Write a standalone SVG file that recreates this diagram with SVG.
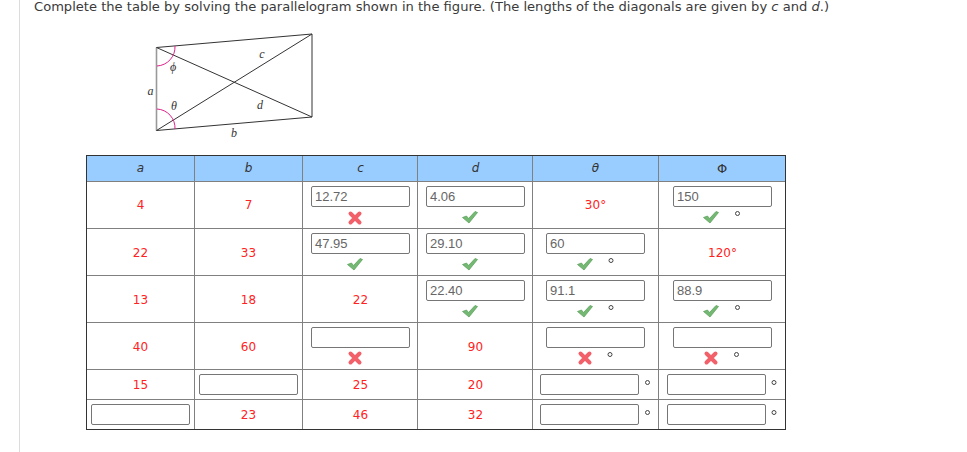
<svg xmlns="http://www.w3.org/2000/svg" xmlns:xlink="http://www.w3.org/1999/xlink" width="967" height="452" viewBox="0 0 967 452">
<style>
.q{font:13px "DejaVu Sans",Verdana,sans-serif;fill:#3a3a3a}
.h{font:italic 12px "DejaVu Sans",Verdana,sans-serif;fill:#333;text-anchor:middle}
.p{font:13px "DejaVu Sans",Verdana,sans-serif;fill:#333;text-anchor:middle}
.r{font:12px "DejaVu Sans",Verdana,sans-serif;fill:#f22;text-anchor:middle}
.v{font:13px "Liberation Sans",Arial,sans-serif;fill:#666}
.f{font:italic 12px "Liberation Serif","Times New Roman",serif;fill:#333;text-anchor:middle}
.g{stroke:#808080;stroke-width:1;fill:none}
.b{fill:#fff;stroke:#767676;stroke-width:1}
</style>
<defs>
<rect id="box" class="b" width="98" height="20" rx="1.500"/>
<path id="ok" d="M-7.500 0.500L-3.500 -1L-1.500 1.500L5 -5.500L7.500 -4.500L-1 6Z" fill="#74b874" stroke="#559d55" stroke-width=".7" stroke-linejoin="round"/>
<path id="no" d="M-4.500 -4.500L4.500 4.500M4.500 -4.500L-4.500 4.500" fill="none" stroke="#f2606a" stroke-width="4" stroke-linecap="round"/>
<circle id="deg" r="2" fill="none" stroke="#444" stroke-width="1"/>
</defs>
<rect width="967" height="452" fill="#fff"/>
<path d="M19.500 0V452" stroke="#dcdcdc"/>
<text class="q" x="34" y="11" textLength="795" lengthAdjust="spacingAndGlyphs">Complete the table by solving the parallelogram shown in the figure. (The lengths of the diagonals are given by <tspan font-style="italic">c</tspan> and <tspan font-style="italic">d</tspan>.)</text>
<g id="figure">
<path d="M156.500 47.500V130.500" stroke="#999" stroke-width="1.600" fill="none"/>
<path d="M156.500 47.500L312 34V117L156.500 130.500M156.500 47.500L312 117M156.500 130.500L312 34" stroke="#333" stroke-width="1" fill="none"/>
<path d="M175 46A19 19 0 0 1 157 66M157 109A19 19 0 0 1 175 129" stroke="#e0218a" stroke-width="1" fill="none"/>
<text class="f" x="262" y="58">c</text><text class="f" x="260" y="109">d</text><text class="f" x="150.500" y="95">a</text><text class="f" x="234" y="137">b</text>
<text class="f" x="173" y="71">ϕ</text><text class="f" x="174" y="110">θ</text>
</g>
<g id="table">
<rect x="86.500" y="155.500" width="699" height="26" fill="#99ccff"/>
<path class="g" d="M194.500 155V430M302.500 155V430M417.500 155V430M532.500 155V430M658.500 155V430M86 181.500H785M86 228.500H785M86 275.500H785M86 322.500H785M86 369.500H785M86 399.500H785"/>
<rect x="86.500" y="155.500" width="699" height="274" fill="none" stroke="#333"/>
<text class="h" x="140.500" y="172">a</text><text class="h" x="248.500" y="172">b</text><text class="h" x="360.500" y="172">c</text><text class="h" x="475.500" y="172">d</text><text class="h" x="595.500" y="172">θ</text><text class="p" x="722" y="173">Φ</text>
</g>
<g id="row1">
<text class="r" x="140.500" y="209">4</text><text class="r" x="248.500" y="209">7</text><text class="r" x="595.500" y="209">30°</text>
<use xlink:href="#box" x="311.500" y="186.500"/><text class="v" x="315" y="201">12.72</text><use xlink:href="#no" x="355" y="218"/>
<use xlink:href="#box" x="426.500" y="186.500"/><text class="v" x="430" y="201">4.06</text><use xlink:href="#ok" x="470" y="217"/>
<use xlink:href="#box" x="673.500" y="186.500"/><text class="v" x="677" y="201">150</text><use xlink:href="#ok" x="711" y="217"/><use xlink:href="#deg" x="737.500" y="213.500"/>
</g>
<g id="row2">
<text class="r" x="140.500" y="257">22</text><text class="r" x="248.500" y="257">33</text><text class="r" x="722.500" y="257">120°</text>
<use xlink:href="#box" x="311.500" y="233.500"/><text class="v" x="315" y="248">47.95</text><use xlink:href="#ok" x="355" y="264"/>
<use xlink:href="#box" x="426.500" y="233.500"/><text class="v" x="430" y="248">29.10</text><use xlink:href="#ok" x="470" y="264"/>
<use xlink:href="#box" x="546.500" y="233.500"/><text class="v" x="550" y="248">60</text><use xlink:href="#ok" x="585" y="264"/><use xlink:href="#deg" x="611" y="260.500"/>
</g>
<g id="row3">
<text class="r" x="140.500" y="304">13</text><text class="r" x="248.500" y="304">18</text><text class="r" x="360.500" y="304">22</text>
<use xlink:href="#box" x="426.500" y="280.500"/><text class="v" x="430" y="295">22.40</text><use xlink:href="#ok" x="470" y="311"/>
<use xlink:href="#box" x="546.500" y="280.500"/><text class="v" x="550" y="295">91.1</text><use xlink:href="#ok" x="585" y="311"/><use xlink:href="#deg" x="611" y="307.500"/>
<use xlink:href="#box" x="673.500" y="280.500"/><text class="v" x="677" y="295">88.9</text><use xlink:href="#ok" x="711" y="311"/><use xlink:href="#deg" x="737.500" y="307.500"/>
</g>
<g id="row4">
<text class="r" x="140.500" y="351">40</text><text class="r" x="248.500" y="351">60</text><text class="r" x="475.500" y="351">90</text>
<use xlink:href="#box" x="311.500" y="327.500"/><use xlink:href="#no" x="355" y="358"/>
<use xlink:href="#box" x="546.500" y="327.500"/><use xlink:href="#no" x="585" y="358"/><use xlink:href="#deg" x="610" y="354.500"/>
<use xlink:href="#box" x="673.500" y="327.500"/><use xlink:href="#no" x="711" y="358"/><use xlink:href="#deg" x="736.500" y="354.500"/>
</g>
<g id="row5">
<text class="r" x="140.500" y="389">15</text><text class="r" x="360.500" y="389">25</text><text class="r" x="475.500" y="389">20</text>
<use xlink:href="#box" x="199.500" y="374.500"/>
<use xlink:href="#box" x="540.500" y="374.500"/><use xlink:href="#deg" x="647.500" y="382.500"/>
<use xlink:href="#box" x="667.500" y="374.500"/><use xlink:href="#deg" x="774" y="382.500"/>
</g>
<g id="row6">
<text class="r" x="248.500" y="419">23</text><text class="r" x="360.500" y="419">46</text><text class="r" x="475.500" y="419">32</text>
<use xlink:href="#box" x="91.500" y="404.500"/>
<use xlink:href="#box" x="540.500" y="404.500"/><use xlink:href="#deg" x="647.500" y="412.500"/>
<use xlink:href="#box" x="667.500" y="404.500"/><use xlink:href="#deg" x="774" y="412.500"/>
</g>
</svg>
